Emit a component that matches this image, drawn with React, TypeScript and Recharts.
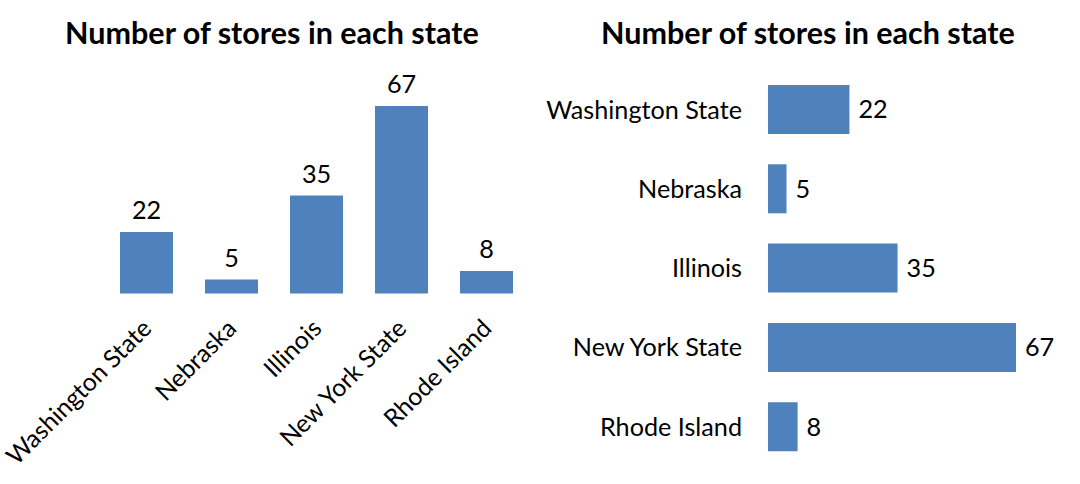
import { Bar, BarChart, LabelList, XAxis, YAxis } from "recharts";

const states = ["Washington State", "Nebraska", "Illinois", "New York State", "Rhode Island"];
const storeCounts = [22, 5, 35, 67, 8];
const chartTitle = "Number of stores in each state";

const data = states.map((state, i) => ({ state, stores: storeCounts[i] }));

const BAR_COLOR = "#4F81BD";
const FONT = "Lato, 'Liberation Sans', sans-serif";
const LABEL_SIZE = 25.2;

// rotated category labels under the column chart
function AngledTick({ x, y, payload }: any) {
  const ax = x + 6.5;
  const ay = y + 28.5;
  return (
    <text
      x={ax}
      y={ay}
      transform={`rotate(-45, ${ax}, ${ay})`}
      textAnchor="end"
      fontSize={24.8}
      fill="#000"
    >
      {payload.value}
    </text>
  );
}

function Title({ center }: { center: number }) {
  return (
    <div
      style={{
        position: "absolute",
        left: center - 300,
        top: 13,
        width: 600,
        textAlign: "center",
        fontWeight: 700,
        fontSize: 30.5,
        lineHeight: "38px",
        color: "#000",
      }}
    >
      {chartTitle}
    </div>
  );
}

export default function App() {
  return (
    <div
      style={{
        position: "absolute",
        left: 0,
        top: 0,
        width: 1080,
        height: 484,
        background: "#fff",
        fontFamily: FONT,
        overflow: "hidden",
      }}
    >
      <Title center={272} />
      <Title center={808} />

      <div style={{ position: "absolute", left: 0, top: 0 }}>
        <BarChart width={540} height={484} data={data} margin={{ top: 106, right: 11, left: 104, bottom: 0 }}>
          <XAxis
            dataKey="state"
            height={190.5}
            axisLine={false}
            tickLine={false}
            interval={0}
            tick={<AngledTick />}
          />
          <YAxis hide domain={[0, 67]} />
          <Bar dataKey="stores" fill={BAR_COLOR} barSize={53} isAnimationActive={false}>
            <LabelList dataKey="stores" position="top" offset={13} fontSize={LABEL_SIZE} fill="#000" />
          </Bar>
        </BarChart>
      </div>

      <div style={{ position: "absolute", left: 540, top: 0 }}>
        <BarChart
          width={540}
          height={484}
          data={data}
          layout="vertical"
          margin={{ top: 70, right: 64, left: 0, bottom: 17.5 }}
        >
          <XAxis type="number" hide domain={[0, 67]} />
          <YAxis
            type="category"
            dataKey="state"
            width={228}
            axisLine={false}
            tickLine={false}
            tickSize={0}
            tickMargin={26}
            tick={{ fontSize: LABEL_SIZE, fill: "#000" }}
          />
          <Bar dataKey="stores" fill={BAR_COLOR} barSize={49} isAnimationActive={false}>
            <LabelList dataKey="stores" position="right" offset={9} fontSize={LABEL_SIZE} fill="#000" />
          </Bar>
        </BarChart>
      </div>
    </div>
  );
}
